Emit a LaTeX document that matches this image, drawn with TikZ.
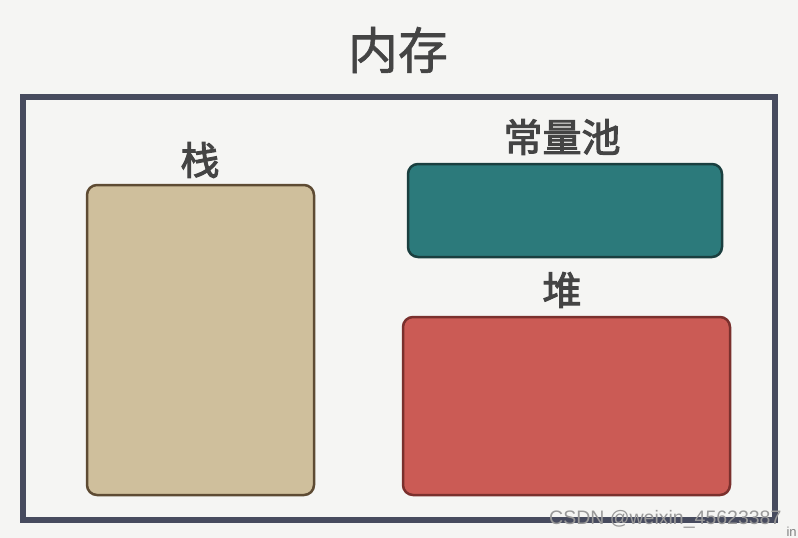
\documentclass[tikz,border=0pt]{standalone}
\usepackage{fontspec}
\newfontfamily\cjk{Noto Sans CJK SC}
\newfontfamily\cjktitle[FakeBold=1.2]{Noto Sans CJK SC}
\newfontfamily\cjkpart[FakeBold=2.6]{Noto Sans CJK SC}
\setsansfont{Liberation Sans}
\usetikzlibrary{positioning}
\definecolor{bgcol}{HTML}{F5F5F3}
\definecolor{framecol}{HTML}{474B5E}
\definecolor{textcol}{HTML}{444444}
\definecolor{stackfill}{HTML}{CFBF9C}
\definecolor{stackline}{HTML}{5E4B33}
\definecolor{poolfill}{HTML}{2C7A7B}
\definecolor{poolline}{HTML}{1A3F3F}
\definecolor{heapfill}{HTML}{CB5B55}
\definecolor{heapline}{HTML}{7A302D}
\tikzset{
    membox/.style={draw, line width=2.5pt, rounded corners=10pt, inner sep=0pt},
    title/.style={text=textcol, font=\cjktitle\fontsize{50}{56}\selectfont},
    part/.style={text=textcol, font=\cjkpart\fontsize{39}{42}\selectfont},
}

\begin{document}
\begin{tikzpicture}[x=1pt, y=-1pt]
    \fill [bgcol] (0, 0) rectangle (798, 538);
    \useasboundingbox (0, 0) rectangle (798, 538);
    \node [title] (mem) at (398, 50) {内存};
    \draw [framecol, line width=6pt] (23, 97) rectangle (775, 520);
    \node [membox, fill=stackfill, draw=stackline, minimum width=227pt, minimum height=310pt] (stack) at (200.5, 340) {};
    \node [membox, fill=poolfill, draw=poolline, minimum width=314pt, minimum height=93pt] (pool) at (565, 210.5) {};
    \node [membox, fill=heapfill, draw=heapline, minimum width=327pt, minimum height=178pt] (heap) at (566.5, 406) {};
    \node [part] (s) at (200, 160) {栈};
    \node [part] (p) at (562, 137) {常量池};
    \node [part] (h) at (562, 290) {堆};
    \node [text=gray!80, font=\sffamily\fontsize{19.5}{20}\selectfont, anchor=east] (wm) at (785, 519) {CSDN @weixin\_45623387};
    \node [text=gray, font=\sffamily\fontsize{13}{14}\selectfont, anchor=west] (wm2) at (783, 532) {in};
\end{tikzpicture}
\end{document}
